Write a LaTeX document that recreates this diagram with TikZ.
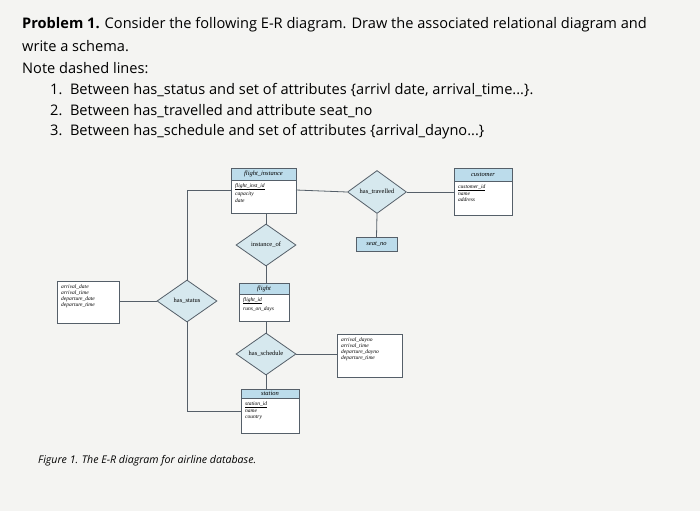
\documentclass[tikz,border=0pt]{standalone}
\usepackage{fontspec}
\setsansfont{Open Sans}
\newfontfamily\dgm{Liberation Serif}
\usetikzlibrary{shapes.geometric}
\definecolor{hdr}{RGB}{188,220,235}
\definecolor{dia}{RGB}{214,232,238}
\definecolor{bd}{RGB}{85,95,105}
\definecolor{bg}{RGB}{244,244,242}
\begin{document}
\begin{tikzpicture}[x=1pt,y=-1pt,
  ln/.style={draw=bd,line width=0.8pt},
  hd/.style={ln,fill=hdr},
  bx/.style={ln,fill=white},
  et/.style={font=\dgm\fontsize{6.5}{7}\selectfont\itshape,inner sep=0pt},
  attr/.style={font=\dgm\fontsize{5.5}{6.2}\selectfont\itshape,align=left,anchor=north west,inner sep=0pt},
  rel/.style={diamond,ln,fill=dia,aspect=1.5,inner sep=0pt,font=\dgm\fontsize{6.5}{7}\selectfont},
  tx/.style={font=\sffamily\fontsize{14.6}{16}\selectfont,anchor=west,inner sep=0pt}]
\fill[bg] (0,0) rectangle (700,511);
\useasboundingbox (0,0) rectangle (700,511);
\node[tx] (t1) at (22,25) {\textbf{Problem 1.} Consider the following E-R diagram. Draw the associated relational diagram and};
\node[tx] (t2) at (22,46) {write a schema.};
\node[tx] (t3) at (22,68) {Note dashed lines:};
\node[tx] (t4) at (50,90) {1.\ \ Between has\_status and set of attributes \{arrivl date, arrival\_time...\}.};
\node[tx] (t5) at (50,111) {2.\ \ Between has\_travelled and attribute seat\_no};
\node[tx] (t6) at (50,132) {3.\ \ Between has\_schedule and set of attributes \{arrival\_dayno...\}};
% flight_instance
\draw[bx] (231,168) rectangle (296,213); \draw[hd] (231,168) rectangle (296,180);
\node[et] (fi) at (263.5,174) {flight\_instance};
\node[attr] (fia) at (235,183) {\underline{flight\_inst\_id}\\[1pt]capacity\\date};
\coordinate (fiL) at (231,190); \coordinate (fiR) at (296,190);
% flight
\draw[bx] (239,283) rectangle (289,321); \draw[hd] (239,283) rectangle (289,294);
\node[et] (fl) at (264,288.5) {flight};
\node[attr] (fla) at (243,297) {\underline{flight\_id}\\[1pt]runs\_on\_days};
% station
\draw[bx] (241,389) rectangle (299,433); \draw[hd] (241,389) rectangle (299,398);
\node[et] (st) at (270,393.5) {station};
\node[attr] (sta) at (245,401) {\underline{station\_id}\\[1pt]name\\country};
\coordinate (stL) at (241,411);
% customer
\draw[bx] (454,168) rectangle (512,215); \draw[hd] (454,168) rectangle (512,181);
\node[et] (cu) at (483,174.5) {customer};
\node[attr] (cua) at (458,184) {\underline{customer\_id}\\[1pt]name\\address};
\coordinate (cuL) at (454,192);
% seat_no
\draw[hd] (356,237) rectangle (397,251);
\node[et] (sn) at (376.5,244) {seat\_no};
% attribute boxes
\draw[bx] (57,281) rectangle (119,323);
\node[attr] (la) at (61,284) {arrival\_date\\arrival\_time\\departure\_date\\departure\_time};
\coordinate (laR) at (119,301);
\draw[bx] (337,334) rectangle (402,377);
\node[attr] (ra) at (341,337) {arrival\_dayno\\arrival\_time\\departure\_dayno\\departure\_time};
\coordinate (raL) at (337,354);
% relationships
\node[rel,minimum width=60,minimum height=42] (io) at (266,245) {instance\_of};
\node[rel,minimum width=60,minimum height=42] (hs) at (187,301) {has\_status};
\node[rel,minimum width=60,minimum height=42] (hsc) at (266,354) {has\_schedule};
\node[rel,minimum width=59,minimum height=43] (ht) at (377,192) {has\_travelled};
% connectors
\draw[ln] (io.north) -- (266,213);
\draw[ln] (io.south) -- (266,283);
\draw[ln] (hsc.north) -- (266,321);
\draw[ln] (hsc.south) -- (266,389);
\draw[ln] (hs.north) |- (fiL);
\draw[ln] (hs.south) |- (stL);
\draw[ln] (laR) -- (hs.west);
\draw[ln] (hsc.east) -- (raL);
\draw[ln] (fiR) -- (ht.west);
\draw[ln] (ht.east) -- (cuL);
\draw[ln] (ht.south) -- (376.5,237);
\node[font=\sffamily\itshape\fontsize{10.6}{12}\selectfont,anchor=west,inner sep=0pt] (cap) at (38,461) {Figure 1. The E-R diagram for airline database.};
\end{tikzpicture}
\end{document}
